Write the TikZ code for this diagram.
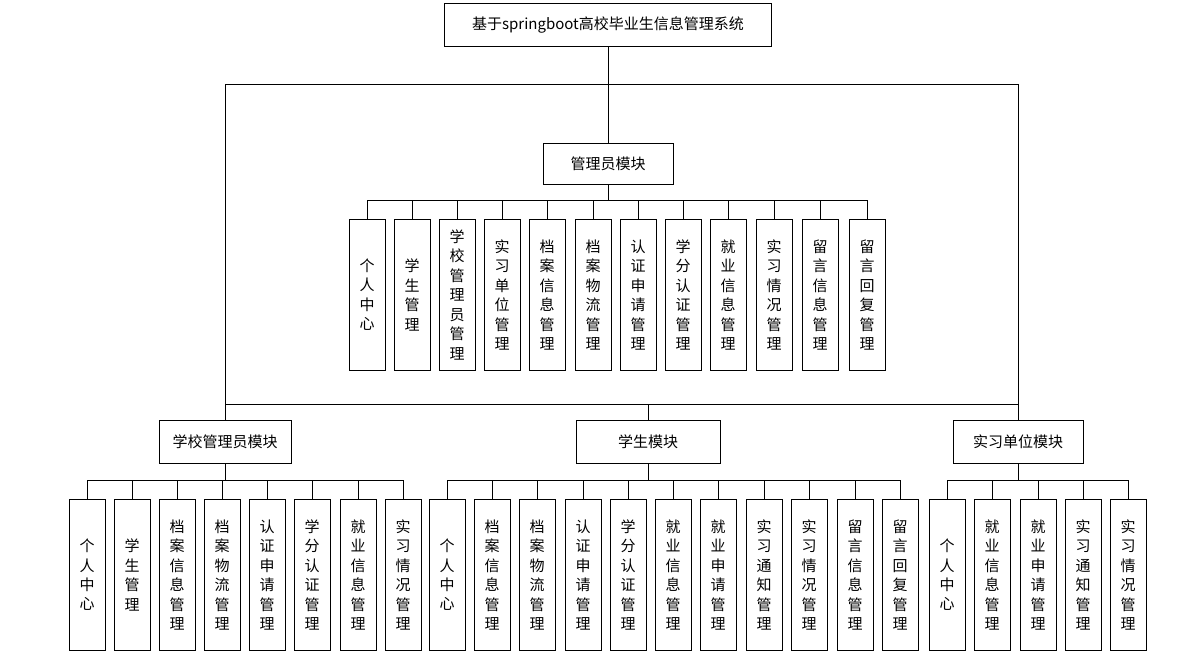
\documentclass[tikz,border=0pt]{standalone}
\usepackage{fontspec}
\newfontfamily\cjk{Noto Sans CJK SC}
\begin{document}
\begin{tikzpicture}[x=1pt,y=-1pt,line width=0.8pt,
  box/.style={draw,font=\cjk\fontsize{15}{18}\selectfont,inner sep=0pt},
  leafbox/.style={draw,font=\cjk\fontsize{15}{19.5}\selectfont,align=center,minimum width=36pt,minimum height=151pt,inner sep=0pt,anchor=north}]
\useasboundingbox (0,0) rectangle (1187,659);
\node[box,minimum width=327pt,minimum height=43pt] (root) at (608,24.5) {基于springboot高校毕业生信息管理系统};
\node[box,minimum width=130pt,minimum height=41pt] (adm) at (608,163.5) {管理员模块};
\node[box,minimum width=132pt,minimum height=43pt] (sch) at (225,441.5) {学校管理员模块};
\node[box,minimum width=144pt,minimum height=43pt] (stu) at (648,441.5) {学生模块};
\node[box,minimum width=130pt,minimum height=43pt] (com) at (1018,441.5) {实习单位模块};
\coordinate (tl) at (225,84); \coordinate (tr) at (1018,84); \coordinate (tm) at (608,84);
\coordinate (bl) at (225,404); \coordinate (br) at (1018,404); \coordinate (bm) at (648,404);
\draw (root.south) -- (tm); \draw (tl) -- (tr);
\draw (tm) -- (adm.north);
\draw (tl) -- (sch.north); \draw (tr) -- (com.north);
\draw (bl) -- (br); \draw (bm) -- (stu.north);
% admin leaves
\foreach \i/\x/\t in {1/367/个\\人\\中\\心,2/412/学\\生\\管\\理,3/457/学\\校\\管\\理\\员\\管\\理,4/502/实\\习\\单\\位\\管\\理,5/547/档\\案\\信\\息\\管\\理,6/593/档\\案\\物\\流\\管\\理,7/638/认\\证\\申\\请\\管\\理,8/683/学\\分\\认\\证\\管\\理,9/728/就\\业\\信\\息\\管\\理,10/774/实\\习\\情\\况\\管\\理,11/820/留\\言\\信\\息\\管\\理,12/867/留\\言\\回\\复\\管\\理}{
  \node[leafbox] (a\i) at (\x,219) {\t};
  \draw (a\i.north) -- ++(0,-19);}
\draw ([yshift=19pt]a1.north) -- ([yshift=19pt]a12.north);
\draw (adm.south) -- ++(0,16);
% school leaves
\foreach \i/\x/\t in {1/87/个\\人\\中\\心,2/132/学\\生\\管\\理,3/177/档\\案\\信\\息\\管\\理,4/222/档\\案\\物\\流\\管\\理,5/267/认\\证\\申\\请\\管\\理,6/312/学\\分\\认\\证\\管\\理,7/358/就\\业\\信\\息\\管\\理,8/403/实\\习\\情\\况\\管\\理}{
  \node[leafbox] (s\i) at (\x,499) {\t};
  \draw (s\i.north) -- ++(0,-19);}
\draw ([yshift=19pt]s1.north) -- ([yshift=19pt]s8.north);
\draw (sch.south) -- ++(0,17);
% student leaves
\foreach \i/\x/\t in {1/447/个\\人\\中\\心,2/492/档\\案\\信\\息\\管\\理,3/537/档\\案\\物\\流\\管\\理,4/583/认\\证\\申\\请\\管\\理,5/628/学\\分\\认\\证\\管\\理,6/673/就\\业\\信\\息\\管\\理,7/718/就\\业\\申\\请\\管\\理,8/764/实\\习\\通\\知\\管\\理,9/809/实\\习\\情\\况\\管\\理,10/855/留\\言\\信\\息\\管\\理,11/900/留\\言\\回\\复\\管\\理}{
  \node[leafbox] (t\i) at (\x,499) {\t};
  \draw (t\i.north) -- ++(0,-19);}
\draw ([yshift=19pt]t1.north) -- ([yshift=19pt]t11.north);
\draw (stu.south) -- ++(0,17);
% company leaves
\foreach \i/\x/\t in {1/947/个\\人\\中\\心,2/992/就\\业\\信\\息\\管\\理,3/1038/就\\业\\申\\请\\管\\理,4/1083/实\\习\\通\\知\\管\\理,5/1128/实\\习\\情\\况\\管\\理}{
  \node[leafbox] (c\i) at (\x,499) {\t};
  \draw (c\i.north) -- ++(0,-19);}
\draw ([yshift=19pt]c1.north) -- ([yshift=19pt]c5.north);
\draw (com.south) -- ++(0,17);
\end{tikzpicture}
\end{document}
